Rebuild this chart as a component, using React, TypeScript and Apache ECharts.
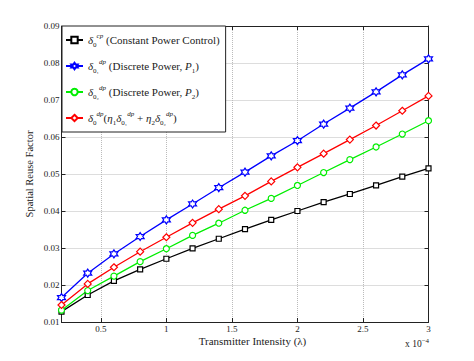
import React, { useEffect, useRef } from "react";
import * as echarts from "echarts";

const xValues = [0.2, 0.4, 0.6, 0.8, 1.0, 1.2, 1.4, 1.6, 1.8, 2.0, 2.2, 2.4, 2.6, 2.8, 3.0];
const constantPower = [0.0128, 0.0173, 0.0211, 0.0242, 0.0271, 0.0299, 0.0325, 0.0351, 0.0376, 0.0400, 0.0424, 0.0446, 0.0469, 0.0493, 0.0515];
const discreteP1 = [0.0166, 0.0232, 0.0284, 0.0331, 0.0376, 0.0419, 0.0463, 0.0505, 0.0549, 0.0590, 0.0635, 0.0678, 0.0722, 0.0768, 0.0811];
const discreteP2 = [0.0132, 0.0185, 0.0224, 0.0263, 0.0298, 0.0334, 0.0367, 0.0402, 0.0434, 0.0469, 0.0504, 0.0539, 0.0573, 0.0608, 0.0644];
const mixed = [0.0146, 0.0203, 0.0248, 0.0290, 0.0329, 0.0368, 0.0405, 0.0441, 0.0480, 0.0518, 0.0555, 0.0593, 0.0631, 0.0671, 0.0711];
const xTickLabels = [0.5, 1, 1.5, 2, 2.5, 3];

const seriesNames = ["cp", "dp1", "dp2", "mix"];
const legendRich: Record<string, string> = {
  cp: "{g|δ}{sub|0}{sup|cp} (Constant Power Control)",
  dp1: "{g|δ}{sub|0₁}{sup|dp} (Discrete Power, {i|P}{sub|1})",
  dp2: "{g|δ}{sub|0₂}{sup|dp} (Discrete Power, {i|P}{sub|2})",
  mix: "{g|δ}{sub|0}{sup|dp}({i|η}{sub|1}{g|δ}{sub|0₁}{sup|dp} + {i|η}{sub|2}{g|δ}{sub|0₂}{sup|dp})",
};

const FONT = "'Liberation Serif', 'Times New Roman', serif";
const HEX = "path://M100,0 L128.87,50 L186.6,50 L157.7,100 L186.6,150 L128.87,150 L100,200 L71.13,150 L13.4,150 L42.3,100 L13.4,50 L71.13,50 Z";

export default function App() {
  const ref = useRef<HTMLDivElement>(null);
  useEffect(() => {
    document.body.style.margin = "0";
    if (!ref.current) return;
    const chart = echarts.init(ref.current, null, { renderer: "svg" });
    const mk = (name: string, data: number[], color: string, symbol: string, size: number) => ({
      name,
      type: "line",
      data: xValues.map((x, i) => [x, data[i]]),
      symbol,
      symbolSize: size,
      showSymbol: true,
      lineStyle: { color, width: 1.3 },
      itemStyle: { color: "#fff", borderColor: color, borderWidth: 1.2 },
    });
    const axisLineStyle = { color: "#222", width: 1 };
    chart.setOption({
      animation: false,
      backgroundColor: "#fff",
      textStyle: { fontFamily: FONT },
      grid: { left: 61.5, right: 45.5, top: 26, bottom: 39, show: false },
      legend: {
        orient: "vertical",
        left: 62,
        top: 26,
        padding: [6, 6, 6, 3],
        itemWidth: 17,
        itemHeight: 8,
        itemGap: 10,
        borderColor: "#222",
        borderWidth: 1,
        backgroundColor: "#fff",
        data: seriesNames,
        formatter: (name: string) => legendRich[name],
        textStyle: {
          fontFamily: FONT,
          fontSize: 11,
          color: "#222",
          lineHeight: 16,
          rich: {
            g: { fontFamily: FONT, fontSize: 11, fontStyle: "italic", color: "#222" },
            i: { fontFamily: FONT, fontSize: 11, fontStyle: "italic", color: "#222" },
            sub: { fontFamily: FONT, fontSize: 7, verticalAlign: "bottom", color: "#222" },
            sup: { fontFamily: FONT, fontSize: 7, fontStyle: "italic", verticalAlign: "top", color: "#222" },
          },
        },
      },
      xAxis: [
        {
          type: "value",
          min: 0.2,
          max: 3,
          name: "Transmitter Intensity (λ)",
          nameLocation: "middle",
          nameGap: 13,
          nameMoveOverlap: false,
          nameTextStyle: { fontFamily: FONT, fontSize: 11, color: "#222", padding: [0, 0, 0, 15] },
          axisLine: { show: true, onZero: false, lineStyle: axisLineStyle },
          axisTick: { show: true, inside: true, length: 4, customValues: xTickLabels, lineStyle: axisLineStyle },
          axisLabel: {
            customValues: xTickLabels,
            formatter: (v: number) => String(v),
            fontFamily: FONT,
            fontSize: 9,
            lineHeight: 9,
            color: "#222",
            margin: 2,
          },
          splitLine: { show: true, lineStyle: { color: "#bbb", type: "dotted", width: 1 } },
        },
        {
          type: "value",
          position: "top",
          min: 0.2,
          max: 3,
          axisLine: { show: true, onZero: false, lineStyle: axisLineStyle },
          axisTick: { show: true, inside: true, length: 4, customValues: xTickLabels, lineStyle: axisLineStyle },
          axisLabel: { show: false },
          splitLine: { show: false },
        },
      ],
      yAxis: [
        {
          type: "value",
          min: 0.01,
          max: 0.09,
          interval: 0.01,
          name: "Spatial Reuse Factor",
          nameLocation: "middle",
          nameGap: 27,
          nameMoveOverlap: false,
          nameTextStyle: { fontFamily: FONT, fontSize: 10.5, color: "#222" },
          axisLine: { show: true, onZero: false, lineStyle: axisLineStyle },
          axisTick: { show: true, inside: true, length: 4, lineStyle: axisLineStyle },
          axisLabel: {
            formatter: (v: number) => v.toFixed(2),
            fontFamily: FONT,
            fontSize: 9,
            color: "#222",
            margin: 2,
          },
          splitLine: { show: true, lineStyle: { color: "#bbb", type: "dotted", width: 1 } },
        },
        {
          type: "value",
          position: "right",
          min: 0.01,
          max: 0.09,
          interval: 0.01,
          axisLine: { show: true, onZero: false, lineStyle: axisLineStyle },
          axisTick: { show: true, inside: true, length: 4, lineStyle: axisLineStyle },
          axisLabel: { show: false },
          splitLine: { show: false },
        },
      ],
      graphic: [
        {
          type: "text",
          left: 405,
          top: 337,
          style: {
            text: "x 10{sup|−4}",
            fontFamily: FONT,
            fontSize: 9.5,
            fill: "#222",
            lineHeight: 14,
            rich: { sup: { fontFamily: FONT, fontSize: 7, verticalAlign: "top", fill: "#222" } },
          },
        },
      ],
      series: [
        mk("cp", constantPower, "#000000", "rect", 5),
        mk("dp1", discreteP1, "#0000ff", HEX, 8),
        mk("dp2", discreteP2, "#00ee00", "circle", 6),
        mk("mix", mixed, "#ff0000", "diamond", 7),
      ],
    });
    return () => chart.dispose();
  }, []);
  return <div ref={ref} style={{ width: 474, height: 361 }} />;
}
